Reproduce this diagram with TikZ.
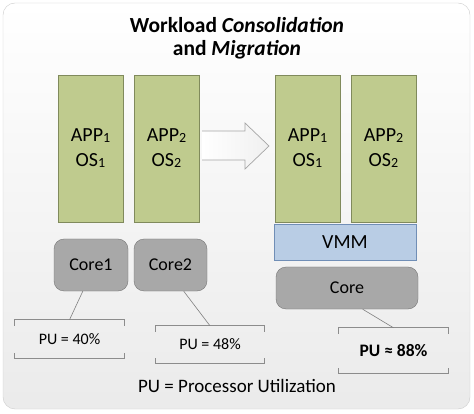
\documentclass[tikz,border=0pt]{standalone}
\usepackage{fontspec}
\setmainfont{Carlito}
\usetikzlibrary{calc}
\definecolor{appgreen}{RGB}{191,203,142}
\definecolor{appline}{RGB}{128,138,92}
\definecolor{vmmblue}{RGB}{185,205,229}
\definecolor{vmmline}{RGB}{112,142,182}
\definecolor{coregray}{RGB}{168,168,168}
\definecolor{coreline}{RGB}{118,118,118}
\newcommand{\idx}[1]{\raisebox{-1pt}{\fontsize{14}{14}\selectfont #1}}
\tikzset{
  app/.style={draw=appline,fill=appgreen,minimum width=65,minimum height=147,
    inner sep=0pt,align=center,font=\fontsize{20}{25}\selectfont},
  cpu/.style={draw=coreline,fill=coregray,rounded corners=10pt,inner sep=0pt,
    font=\fontsize{18}{20}\selectfont},
  pubox/.style={minimum width=109,inner sep=0pt,font=\fontsize{16}{18}\selectfont},
  bracketline/.style={draw=black!45,line width=0.7pt},
  link/.style={draw=black!50,line width=0.6pt}
}
\begin{document}
\begin{tikzpicture}[x=1pt,y=-1pt]
    \useasboundingbox (0,0) rectangle (474,414);
    \draw[draw=black!20,rounded corners=12pt,top color=white,bottom color=black!8] (3,3) rectangle (470,409);

    % title
    \node[font=\fontsize{21.5}{23}\selectfont\bfseries,align=center] (title) at (237,38)
        {Workload \textit{Consolidation}\\and \textit{Migration}};

    % applications
    \node[app] (appa) at (90.5,148.5) {APP\idx{1}\\OS\idx{1}};
    \node[app] (appb) at (166.5,148.5) {APP\idx{2}\\OS\idx{2}};
    \node[app] (appc) at (307.5,148.5) {APP\idx{1}\\OS\idx{1}};
    \node[app] (appd) at (383.5,148.5) {APP\idx{2}\\OS\idx{2}};

    % migration arrow
    \draw[draw=black!35,line width=0.7pt,left color=white,right color=black!6]
        (202,131) -- (245,131) -- (245,123) -- (269,146) -- (245,169) -- (245,160) -- (202,160);

    % virtual machine monitor and cores
    \node[draw=vmmline,fill=vmmblue,minimum width=142,minimum height=36,inner sep=0pt,
        font=\fontsize{20}{24}\selectfont] (vmm) at (345,242) {VMM};
    \node[cpu,minimum width=142,minimum height=42] (core) at (347,288) {Core};
    \node[cpu,minimum width=74,minimum height=52] (corea) at (91,265) {Core1};
    \node[cpu,minimum width=73,minimum height=52] (coreb) at (170.5,265) {Core2};

    % processor utilization
    \node[pubox,minimum height=38] (pua) at (69.5,339) {PU = 40\%};
    \node[pubox,minimum height=37] (pub) at (210,344.5) {PU = 48\%};
    \node[pubox,minimum height=45,font=\fontsize{17.5}{20}\selectfont\bfseries] (puc) at (393.5,350.5) {PU ≈ 88\%};
    \foreach \n in {pua,pub,puc}
        \draw[bracketline] ([yshift=-6pt]\n.north west) -- (\n.north west) -- (\n.north east) -- ([yshift=-6pt]\n.north east)
            ([yshift=5pt]\n.south west) -- (\n.south west) -- (\n.south east) -- ([yshift=5pt]\n.south east);

    \draw[link] ($(corea.south west)!0.39!(corea.south east)$) -- (pua.north);
    \draw[link] ($(coreb.south west)!0.68!(coreb.south east)$) -- (pub.north);
    \draw[link] ($(core.south west)!0.61!(core.south east)$) -- (puc.north);

    \node[font=\fontsize{19}{22}\selectfont] (legend) at (237,386) {PU = Processor Utilization};
\end{tikzpicture}
\end{document}
